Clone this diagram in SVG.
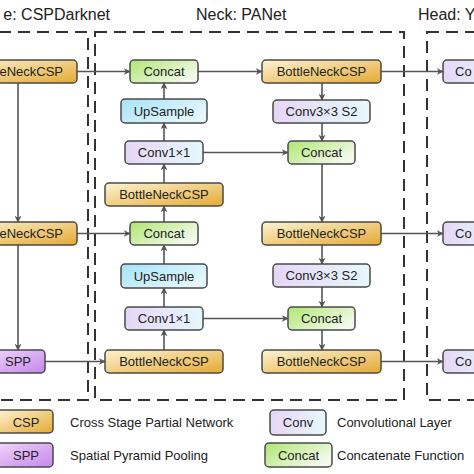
<svg xmlns="http://www.w3.org/2000/svg" width="474" height="474" viewBox="0 0 474 474">
<defs>
<linearGradient id="gCsp" x1="0" y1="0" x2="1" y2="1"><stop offset="0" stop-color="#fdf3d2"/><stop offset="1" stop-color="#e4aa34"/></linearGradient>
<linearGradient id="gSpp" x1="0" y1="0" x2="1" y2="1"><stop offset="0" stop-color="#efd6fb"/><stop offset="1" stop-color="#c686ea"/></linearGradient>
<linearGradient id="gConv" x1="0" y1="0" x2="1" y2="0"><stop offset="0" stop-color="#e6d6f7"/><stop offset="1" stop-color="#e6f8fc"/></linearGradient>
<linearGradient id="gCat" x1="0" y1="0" x2="1" y2="0.6"><stop offset="0" stop-color="#b0e672"/><stop offset="1" stop-color="#f3faec"/></linearGradient>
<linearGradient id="gUp" x1="0" y1="0" x2="1" y2="0.6"><stop offset="0" stop-color="#a4e2f8"/><stop offset="1" stop-color="#e6f8fd"/></linearGradient>
<marker id="arr" viewBox="0 0 10 10" refX="9" refY="5" markerWidth="7" markerHeight="7" markerUnits="userSpaceOnUse" orient="auto">
<path d="M0,0 L10,5 L0,10 L3,5 z" fill="#555"/>
</marker>
<style>
.n rect{stroke:#4a4a4a;stroke-width:1.5}
.csp{fill:url(#gCsp)}
.spp{fill:url(#gSpp)}
.conv{fill:url(#gConv)}
.cat{fill:url(#gCat)}
.up{fill:url(#gUp)}
text{font-family:"Liberation Sans",Arial,sans-serif;fill:#222}
.t{font-size:13px;text-anchor:middle}
.ttl{font-size:16px}
.lg{font-size:13px}
.box{fill:none;stroke:#333;stroke-width:2;stroke-dasharray:12 7}
.c path{fill:none;stroke:#555;stroke-width:1.6;marker-end:url(#arr)}
</style>
</defs>
<rect width="474" height="474" fill="#fff"/>

<g id="titles">
<text class="ttl" x="110" y="20" text-anchor="end">e: CSPDarknet</text>
<text class="ttl" x="196" y="20">Neck: PANet</text>
<text class="ttl" x="418" y="20">Head: Y</text>
</g>

<g id="frames">
<rect class="box" x="-20" y="32" width="108" height="368"/>
<rect class="box" x="95" y="32" width="309" height="368"/>
<rect class="box" x="427" y="32" width="70" height="368"/>
</g>

<g id="connectors" class="c">
<path d="M77,71.5 H130"/>
<path d="M198,71.5 H262"/>
<path d="M381,71.5 H443"/>
<path d="M164,99 V83"/>
<path d="M164,141 V123"/>
<path d="M164,183 V164"/>
<path d="M164,222 V206"/>
<path d="M164,264 V245"/>
<path d="M164,307 V288"/>
<path d="M164,350 V330"/>
<path d="M203,152.5 H288"/>
<path d="M203,318.5 H288"/>
<path d="M322,83 V100"/>
<path d="M322,123 V141"/>
<path d="M322,164 V222"/>
<path d="M322,245 V264"/>
<path d="M322,287 V307"/>
<path d="M322,330 V350"/>
<path d="M381,233.5 H443"/>
<path d="M381,361.5 H443"/>
<path d="M18,83 V222"/>
<path d="M18,245 V350"/>
<path d="M77,233.5 H130"/>
<path d="M45,361.5 H105"/>
</g>

<g id="bb1" class="n"><rect class="csp" x="-42" y="60" width="119" height="23" rx="4"/><text class="t" x="63" y="76" text-anchor="end" style="text-anchor:end">eNeckCSP</text></g>
<g id="bb2" class="n"><rect class="csp" x="-42" y="222" width="119" height="23" rx="4"/><text class="t" x="63" y="238" style="text-anchor:end">eNeckCSP</text></g>
<g id="spp" class="n"><rect class="spp" x="-10" y="350" width="55" height="23" rx="4"/><text class="t" x="18" y="366">SPP</text></g>

<g id="concat1" class="n"><rect class="cat" x="130" y="60" width="68" height="23" rx="4"/><text class="t" x="164" y="76">Concat</text></g>
<g id="upsample1" class="n"><rect class="up" x="121" y="99" width="86" height="24" rx="4"/><text class="t" x="164" y="115.5">UpSample</text></g>
<g id="conv1" class="n"><rect class="conv" x="125" y="141" width="78" height="23" rx="4"/><text class="t" x="164" y="157">Conv1×1</text></g>
<g id="bnl2" class="n"><rect class="csp" x="105" y="183" width="118" height="23" rx="4"/><text class="t" x="164" y="199">BottleNeckCSP</text></g>
<g id="concat2" class="n"><rect class="cat" x="130" y="222" width="68" height="23" rx="4"/><text class="t" x="164" y="238">Concat</text></g>
<g id="upsample2" class="n"><rect class="up" x="121" y="264" width="86" height="24" rx="4"/><text class="t" x="164" y="280.5">UpSample</text></g>
<g id="conv2" class="n"><rect class="conv" x="125" y="307" width="78" height="23" rx="4"/><text class="t" x="164" y="323">Conv1×1</text></g>
<g id="bnl3" class="n"><rect class="csp" x="105" y="350" width="118" height="23" rx="4"/><text class="t" x="164" y="366">BottleNeckCSP</text></g>

<g id="bnr1" class="n"><rect class="csp" x="262" y="60" width="119" height="23" rx="4"/><text class="t" x="321.5" y="76">BottleNeckCSP</text></g>
<g id="conv3a" class="n"><rect class="conv" x="273" y="100" width="97" height="23" rx="4"/><text class="t" x="321.5" y="116">Conv3×3 S2</text></g>
<g id="concat3" class="n"><rect class="cat" x="288" y="141" width="67" height="23" rx="4"/><text class="t" x="321.5" y="157">Concat</text></g>
<g id="bnr2" class="n"><rect class="csp" x="262" y="222" width="119" height="23" rx="4"/><text class="t" x="321.5" y="238">BottleNeckCSP</text></g>
<g id="conv3b" class="n"><rect class="conv" x="273" y="264" width="97" height="23" rx="4"/><text class="t" x="321.5" y="280">Conv3×3 S2</text></g>
<g id="concat4" class="n"><rect class="cat" x="288" y="307" width="67" height="23" rx="4"/><text class="t" x="321.5" y="323">Concat</text></g>
<g id="bnr3" class="n"><rect class="csp" x="262" y="350" width="119" height="23" rx="4"/><text class="t" x="321.5" y="366">BottleNeckCSP</text></g>

<g id="head1" class="n"><rect class="conv" x="443" y="60" width="60" height="23" rx="4"/><text class="t" x="455" y="76" style="text-anchor:start">Co</text></g>
<g id="head2" class="n"><rect class="conv" x="443" y="222" width="60" height="23" rx="4"/><text class="t" x="455" y="238" style="text-anchor:start">Co</text></g>
<g id="head3" class="n"><rect class="conv" x="443" y="350" width="60" height="23" rx="4"/><text class="t" x="455" y="366" style="text-anchor:start">Co</text></g>

<g id="legend">
<g id="lg-csp" class="n"><rect class="csp" x="-3" y="410" width="56" height="23" rx="4"/><text class="t" x="26" y="426.5">CSP</text></g>
<text class="lg" x="70" y="427">Cross Stage Partial Network</text>
<g id="lg-spp" class="n"><rect class="spp" x="-3" y="443" width="56" height="24" rx="4"/><text class="t" x="26" y="460">SPP</text></g>
<text class="lg" x="70" y="460">Spatial Pyramid Pooling</text>
<g id="lg-conv" class="n"><rect class="conv" x="270" y="410" width="56" height="25" rx="4"/><text class="t" x="298" y="427">Conv</text></g>
<text class="lg" x="337" y="427">Convolutional Layer</text>
<g id="lg-concat" class="n"><rect class="cat" x="265" y="443" width="67" height="24" rx="4"/><text class="t" x="298.5" y="460">Concat</text></g>
<text class="lg" x="337" y="460">Concatenate Function</text>
</g>
</svg>
